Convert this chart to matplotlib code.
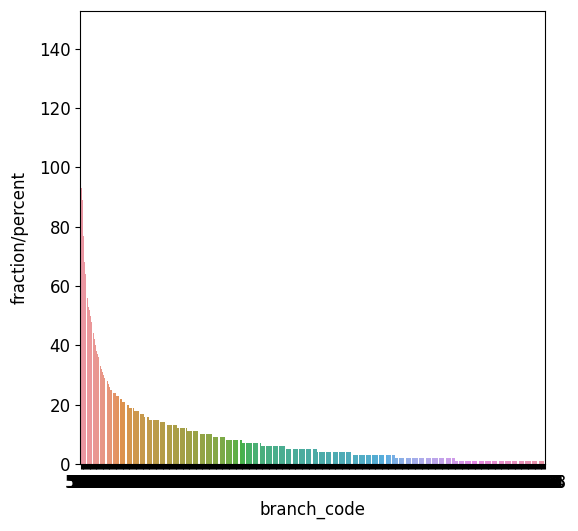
import numpy as np
import matplotlib
matplotlib.use("Agg")
import matplotlib.pyplot as plt
import seaborn as sns

plt.rcParams['font.size'] = 12

# the highest bars, one value per branch (read left to right)
top_values = [145, 93, 89, 77, 68, 64, 60, 58, 56, 53, 52, 50, 48, 46, 45,
              44, 42, 40, 38, 37, 36, 35, 34, 33, 32, 31, 30, 29, 29, 29,
              28, 28, 27, 26]
# after that the values come in flat runs: level and number of branches
run_levels = [25, 24, 23, 22, 21, 20, 19, 18, 17, 16, 15, 14, 13, 12, 11,
              10, 9, 8, 7, 6, 5, 4, 3, 2, 1]
run_counts = [4, 3, 5, 2, 5, 3, 6, 6, 5, 6, 12, 8, 12, 12, 14,
              14, 16, 19, 22, 29, 35, 41, 49, 69, 104]

fraction = np.concatenate([top_values, np.repeat(run_levels, run_counts)])
n = len(fraction)

# tick labels are an unreadable black band in the reference, codes are placeholders
branch_code = [str(500 + 2 * i) for i in range(n)]

# seaborn's categorical default for many levels: husl (l=.7), desaturated for patches
colors = [sns.desaturate(c, 0.75) for c in sns.husl_palette(n, l=.7)]

fig = plt.figure(figsize=(5.78, 5.31), dpi=100)
ax = fig.add_axes([80.374 / 578, 67 / 531, 465 / 578, 453 / 531])

pos = np.arange(n)
ax.bar(pos, fraction, width=0.8, color=colors, linewidth=0)
ax.set_xticks(pos)
ax.set_xticklabels(branch_code)
ax.set_xlim(-0.5, n - 0.5)
ax.set_ylim(0, 152.7)
ax.set_xlabel("branch_code", labelpad=6.5)
ax.set_ylabel("fraction/percent", labelpad=7.5)

fig.savefig("out.png", dpi=100)
